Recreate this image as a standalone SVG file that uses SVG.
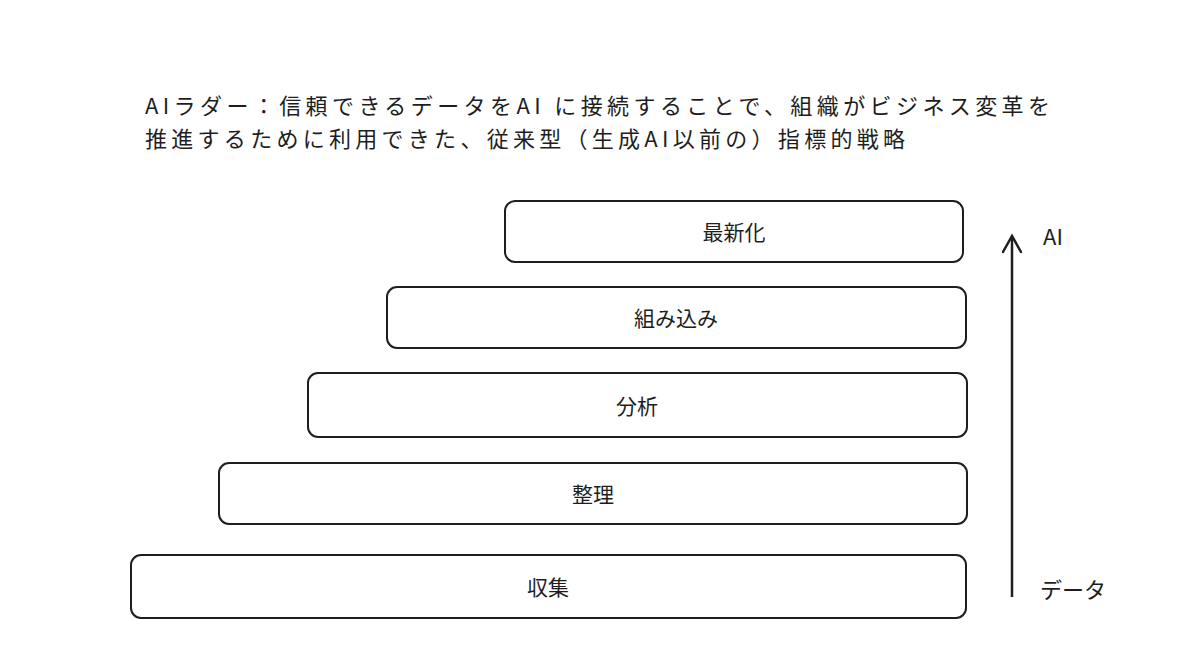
<svg xmlns="http://www.w3.org/2000/svg" width="1200" height="670" viewBox="0 0 1200 670">
<style>
text{font-family:"Noto Sans CJK JP","Noto Sans",sans-serif;fill:#1e1e1e}
.t{font-size:22px}
.l{font-size:21px;text-anchor:middle;dominant-baseline:central}
rect{fill:#fff;stroke:#1e1e1e;stroke-width:2}
</style>
<defs><marker id="ah" markerWidth="24" markerHeight="24" refX="18" refY="10" orient="auto" markerUnits="userSpaceOnUse"><path d="M2,1 L18,10 L2,19" fill="none" stroke="#1e1e1e" stroke-width="2.5" stroke-linecap="round"/></marker></defs>
<rect width="1200" height="670" style="fill:#fff;stroke:none"/>
<g id="title">
<text class="t" x="145" y="114" textLength="905" lengthAdjust="spacing">AIラダー：信頼できるデータをAI に接続することで、組織がビジネス変革を</text>
<text class="t" x="145" y="147" textLength="760" lengthAdjust="spacing">推進するために利用できた、従来型（生成AI以前の）指標的戦略</text>
</g>
<g id="n1"><rect x="505" y="201" width="458" height="61" rx="10"/><text class="l" x="734" y="231">最新化</text></g>
<g id="n2"><rect x="387" y="287" width="579" height="61" rx="10"/><text class="l" x="676" y="317">組み込み</text></g>
<g id="n3"><rect x="308" y="373" width="659" height="64" rx="10"/><text class="l" x="637" y="405">分析</text></g>
<g id="n4"><rect x="219" y="463" width="748" height="61" rx="10"/><text class="l" x="593" y="493">整理</text></g>
<g id="n5"><rect x="131" y="555" width="835" height="63" rx="10"/><text class="l" x="548" y="586">収集</text></g>
<g id="connectors"><line x1="1012" y1="597" x2="1012" y2="236" stroke="#1e1e1e" stroke-width="2.5" marker-end="url(#ah)"/></g>
<g id="labels">
<text class="t" x="1043" y="245">AI</text>
<text class="t" x="1040" y="598">データ</text>
</g>
</svg>
